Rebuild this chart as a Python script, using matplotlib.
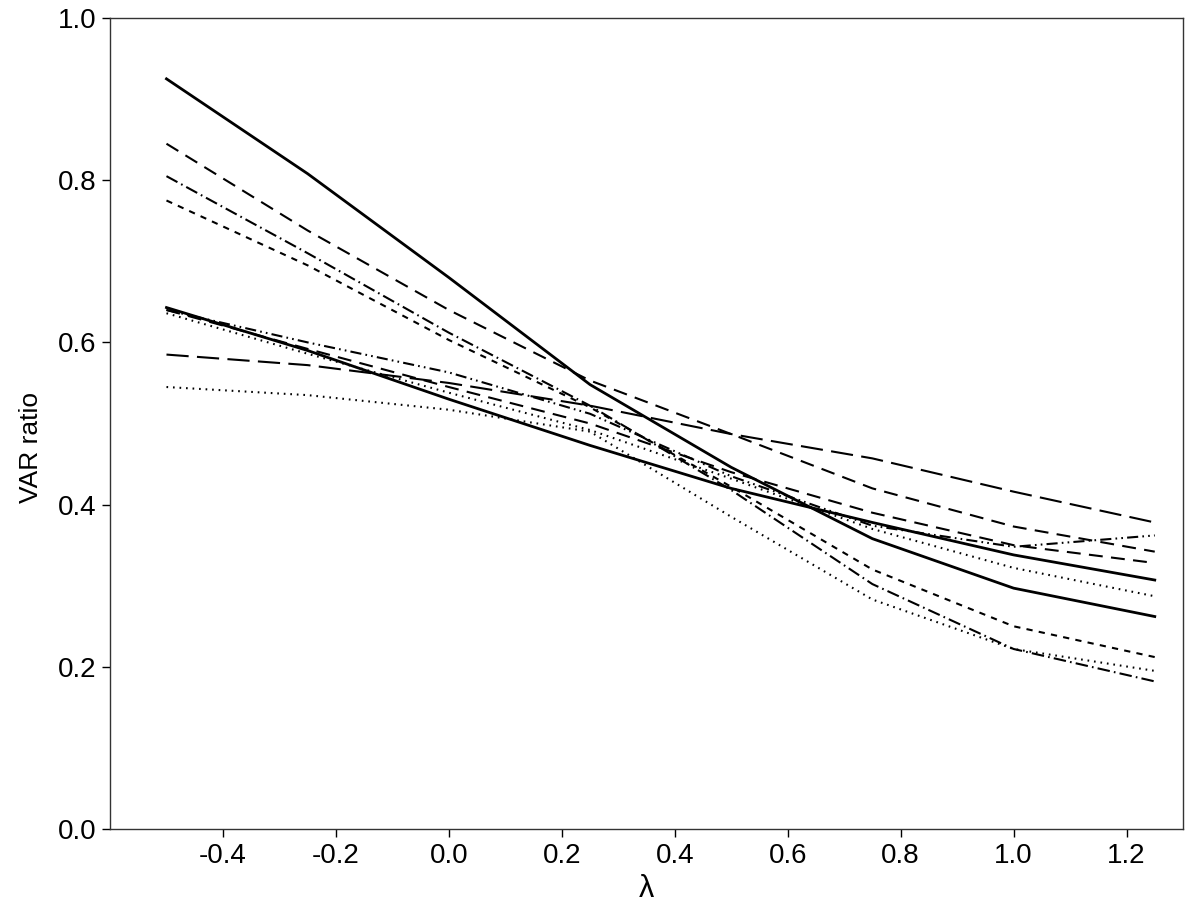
import numpy as np
import matplotlib
matplotlib.use("Agg")
import matplotlib.pyplot as plt

plt.rcParams['font.family'] = ['Liberation Sans', 'DejaVu Sans']
plt.rcParams['lines.scale_dashes'] = False

# lambda values
lam = [-0.5, -0.25, 0.0, 0.25, 0.5, 0.75, 1.0, 1.25]

# steep group
solid_a = [0.925, 0.808, 0.680, 0.548, 0.446, 0.358, 0.297, 0.262]
dashed_a = [0.845, 0.738, 0.640, 0.553, 0.487, 0.420, 0.373, 0.342]
dashdot_a = [0.805, 0.710, 0.612, 0.522, 0.418, 0.302, 0.222, 0.182]
short_a = [0.775, 0.695, 0.603, 0.520, 0.422, 0.320, 0.250, 0.212]

# flat group
solid_b = [0.643, 0.590, 0.530, 0.473, 0.420, 0.378, 0.338, 0.307]
dashed_b = [0.640, 0.592, 0.545, 0.500, 0.440, 0.390, 0.350, 0.328]
dashdotdot_b = [0.640, 0.600, 0.563, 0.512, 0.435, 0.374, 0.348, 0.362]
longdash_b = [0.585, 0.572, 0.550, 0.522, 0.487, 0.457, 0.416, 0.378]
dotted_b = [0.545, 0.535, 0.517, 0.490, 0.385, 0.283, 0.222, 0.195]
dotted_c = [0.636, 0.586, 0.538, 0.492, 0.432, 0.370, 0.322, 0.287]

xticks = [-0.4, -0.2, 0.0, 0.2, 0.4, 0.6, 0.8, 1.0, 1.2]
yticks = [0.0, 0.2, 0.4, 0.6, 0.8, 1.0]

styles = {
    'solid': '-',
    'dashed': (0, (10, 6)),
    'short': (0, (4.5, 4.5)),
    'long': (0, (16, 6)),
    'dotted': (0, (1.2, 3.5)),
    'dashdot': (0, (9, 3, 1.2, 3)),
    'dashdotdot': (0, (8, 3, 1.2, 3, 1.2, 3)),
}

fig = plt.figure(figsize=(11.97, 9.24), dpi=100)
ax = fig.add_axes([0.0919, 0.1028, 0.8964, 0.8777])

series = [
    (solid_a, 'solid', 2.0),
    (dashed_a, 'dashed', 1.5),
    (dashdot_a, 'dashdot', 1.5),
    (short_a, 'short', 1.5),
    (solid_b, 'solid', 2.0),
    (dashed_b, 'dashed', 1.5),
    (dashdotdot_b, 'dashdotdot', 1.5),
    (longdash_b, 'long', 1.5),
    (dotted_b, 'dotted', 1.5),
    (dotted_c, 'dotted', 1.5),
]
for vals, st, lw in series:
    ax.plot(lam, vals, color='black', linestyle=styles[st], linewidth=lw)

ax.set_xlim(-0.6, 1.3)
ax.set_ylim(0.0, 1.0)
ax.set_xticks(xticks)
ax.set_xticklabels([f"{t:.1f}" for t in xticks])
ax.set_yticks(yticks)
ax.set_yticklabels([f"{t:.1f}" for t in yticks])
ax.tick_params(direction='out', length=6, width=1, labelsize=20, pad=4)
for s in ax.spines.values():
    s.set_linewidth(1.0)
    s.set_color('#333333')

ax.set_xlabel('λ', fontsize=22, labelpad=4)
ax.set_ylabel('VAR ratio', fontsize=19)
ax.yaxis.set_label_coords(-0.062, 0.47)

fig.savefig('out.png', dpi=100)
